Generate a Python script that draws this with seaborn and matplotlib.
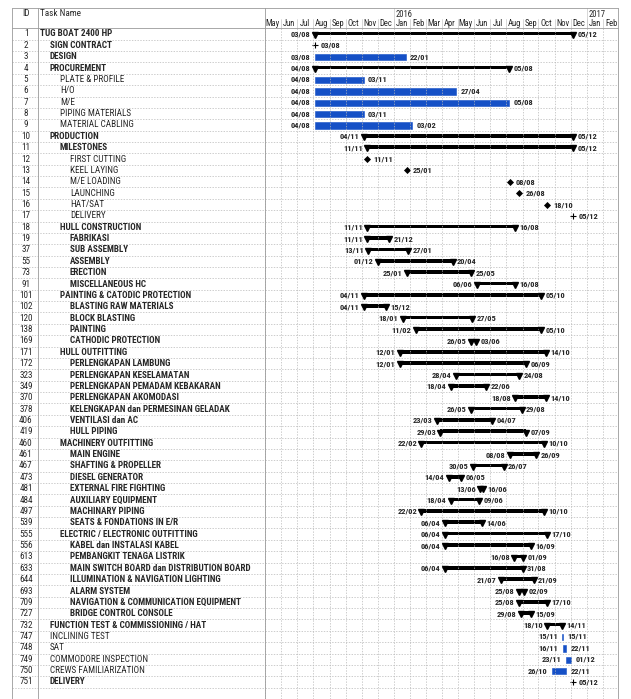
import datetime as dt
import matplotlib
matplotlib.use("Agg")
import matplotlib.pyplot as plt
import matplotlib.dates as mdates
import pandas as pd
import seaborn as sns

# Schedule data
task_ids = [1, 2, 3, 4, 5, 6, 7, 8, 9, 10, 11, 12, 13, 14, 15, 16, 17, 18, 19, 37,
            55, 73, 91, 101, 102, 120, 138, 169, 171, 172, 323, 349, 370, 378, 406,
            419, 460, 461, 467, 473, 481, 484, 497, 539, 555, 556, 613, 633, 644,
            693, 709, 727, 732, 747, 748, 749, 750, 751]
task_names = [
    "TUG BOAT 2400 HP", "SIGN CONTRACT", "DESIGN", "PROCUREMENT", "PLATE & PROFILE",
    "H/O", "M/E", "PIPING MATERIALS", "MATERIAL CABLING", "PRODUCTION", "MILESTONES",
    "FIRST CUTTING", "KEEL LAYING", "M/E LOADING", "LAUNCHING", "HAT/SAT", "DELIVERY",
    "HULL CONSTRUCTION", "FABRIKASI", "SUB ASSEMBLY", "ASSEMBLY", "ERECTION",
    "MISCELLANEOUS HC", "PAINTING & CATODIC PROTECTION", "BLASTING RAW MATERIALS",
    "BLOCK BLASTING", "PAINTING", "CATHODIC PROTECTION", "HULL OUTFITTING",
    "PERLENGKAPAN LAMBUNG", "PERLENGKAPAN KESELAMATAN", "PERLENGKAPAN PEMADAM KEBAKARAN",
    "PERLENGKAPAN AKOMODASI", "KELENGKAPAN dan PERMESINAN GELADAK", "VENTILASI dan AC",
    "HULL PIPING", "MACHINERY OUTFITTING", "MAIN ENGINE", "SHAFTING & PROPELLER",
    "DIESEL GENERATOR", "EXTERNAL FIRE FIGHTING", "AUXILIARY EQUIPMENT",
    "MACHINARY PIPING", "SEATS & FONDATIONS IN E/R", "ELECTRIC / ELECTRONIC OUTFITTING",
    "KABEL dan INSTALASI KABEL", "PEMBANGKIT TENAGA LISTRIK",
    "MAIN SWITCH BOARD dan DISTRIBUTION BOARD", "ILLUMINATION & NAVIGATION LIGHTING",
    "ALARM SYSTEM", "NAVIGATION & COMMUNICATION EQUIPMENT", "BRIDGE CONTROL CONSOLE",
    "FUNCTION TEST & COMMISSIONING / HAT", "INCLINING TEST", "SAT",
    "COMMODORE INSPECTION", "CREWS FAMILIARIZATION", "DELIVERY"]
outline_levels = [0, 1, 1, 1, 2, 2, 2, 2, 2, 1, 2, 3, 3, 3, 3, 3, 3, 2, 3, 3,
                  3, 3, 3, 2, 3, 3, 3, 3, 2, 3, 3, 3, 3, 3, 3,
                  3, 2, 3, 3, 3, 3, 3, 3, 3, 2, 3, 3, 3, 3,
                  3, 3, 3, 1, 1, 1, 1, 1, 1]
task_kinds = ["summary", "star", "task", "summary", "task", "task", "task", "task", "task",
              "summary", "summary", "milestone", "milestone", "milestone", "milestone",
              "milestone", "star"] + ["summary"] * 36 + ["task"] * 4 + ["star"]
start_dates = [
    "2015-08-03", "2015-08-03", "2015-08-03", "2015-08-04", "2015-08-04", "2015-08-04",
    "2015-08-04", "2015-08-04", "2015-08-04", "2015-11-04", "2015-11-11", "2015-11-11",
    "2016-01-25", "2016-08-08", "2016-08-26", "2016-10-18", "2016-12-05", "2015-11-11",
    "2015-11-11", "2015-11-13", "2015-12-01", "2016-01-25", "2016-06-06", "2015-11-04",
    "2015-11-04", "2016-01-18", "2016-02-11", "2016-05-26", "2016-01-12", "2016-01-12",
    "2016-04-28", "2016-04-18", "2016-08-18", "2016-05-26", "2016-03-23", "2016-03-29",
    "2016-02-22", "2016-08-08", "2016-05-30", "2016-04-14", "2016-06-13", "2016-04-18",
    "2016-02-22", "2016-04-06", "2016-04-06", "2016-04-06", "2016-08-16", "2016-04-06",
    "2016-07-21", "2016-08-25", "2016-08-25", "2016-08-29", "2016-10-18", "2016-11-15",
    "2016-11-16", "2016-11-23", "2016-10-26", "2016-12-05"]
finish_dates = [
    "2016-12-05", "2015-08-03", "2016-01-22", "2016-08-05", "2015-11-03", "2016-04-27",
    "2016-08-05", "2015-11-03", "2016-02-03", "2016-12-05", "2016-12-05", "2015-11-11",
    "2016-01-25", "2016-08-08", "2016-08-26", "2016-10-18", "2016-12-05", "2016-08-16",
    "2015-12-21", "2016-01-27", "2016-04-20", "2016-05-25", "2016-08-16", "2016-10-05",
    "2015-12-15", "2016-05-27", "2016-10-05", "2016-06-03", "2016-10-14", "2016-09-06",
    "2016-08-24", "2016-06-22", "2016-10-14", "2016-08-29", "2016-07-04", "2016-09-07",
    "2016-10-10", "2016-09-26", "2016-07-26", "2016-05-06", "2016-06-16", "2016-06-09",
    "2016-10-10", "2016-06-14", "2016-10-17", "2016-09-16", "2016-09-01", "2016-08-31",
    "2016-09-21", "2016-09-02", "2016-10-17", "2016-09-15", "2016-11-14", "2016-11-15",
    "2016-11-22", "2016-12-01", "2016-11-22", "2016-12-05"]
month_labels = ["May", "Jun", "Jul", "Aug", "Sep", "Oct", "Nov", "Dec", "Jan", "Feb",
                "Mar", "Apr", "May", "Jun", "Jul", "Aug", "Sep", "Oct", "Nov", "Dec",
                "Jan", "Feb"]
year_labels = ["2016", "2017"]

sns.set_style("white")
plt.rcParams["font.family"] = ["Roboto Condensed", "Liberation Sans", "DejaVu Sans"]

df = pd.DataFrame({"id": task_ids, "name": task_names, "level": outline_levels,
                   "kind": task_kinds,
                   "start": pd.to_datetime(start_dates),
                   "finish": pd.to_datetime(finish_dates)})
df["row"] = range(len(df))
df["bold"] = (df["kind"] == "summary") | df["id"].isin([2, 3, 751])

W, H = 631, 699
fig = plt.figure(figsize=(W / 100, H / 100), dpi=100)


def rect(x0, y0, x1, y1):
    return [x0 / W, 1 - y1 / H, (x1 - x0) / W, (y1 - y0) / H]


X_TBL, X_ID, X_SPLIT, X_END = 12, 38, 265, 618
Y_TOP, Y_HEAD = 8, 28.3
N_ROWS = len(df) + 1
t0, t1 = dt.datetime(2015, 5, 1), dt.datetime(2017, 3, 1)
grid_kw = dict(color="#b8b8b8", lw=0.5, ls=(0, (2, 2)))
border = "#9a9a9a"
FS = 6.6

ax_tbl = fig.add_axes(rect(X_TBL, Y_HEAD, X_SPLIT, H))
ax = fig.add_axes(rect(X_SPLIT, Y_HEAD, X_END, H))
ax_htbl = fig.add_axes(rect(X_TBL, Y_TOP, X_SPLIT, Y_HEAD))
ax_head = fig.add_axes(rect(X_SPLIT, Y_TOP, X_END, Y_HEAD))
for a in (ax_tbl, ax, ax_htbl, ax_head):
    a.set_axis_off()
for a in (ax_tbl, ax):
    a.set_ylim(N_ROWS - 0.5, -0.5)
ax_tbl.set_xlim(X_TBL, X_SPLIT)
ax_htbl.set_xlim(X_TBL, X_SPLIT)
ax_htbl.set_ylim(Y_HEAD, Y_TOP)
ax.set_xlim(t0, t1)
ax_head.set_xlim(t0, t1)
ax_head.set_ylim(1, 0)

# Table part
indent = {0: 40, 1: 50, 2: 60, 3: 70}
for r in df.itertuples():
    ax_tbl.text(26, r.row, str(r.id), ha="center", va="center", fontsize=FS)
    ax_tbl.text(indent[r.level], r.row, r.name, ha="left", va="center", fontsize=FS,
                fontweight="bold" if r.bold else "normal")
for i in range(N_ROWS):
    ax_tbl.axhline(i + 0.5, **grid_kw)
    ax.axhline(i + 0.5, **grid_kw)
ax_htbl.text(26, 13, "ID", ha="center", va="center", fontsize=FS)
ax_htbl.text(40, 13, "Task Name", ha="left", va="center", fontsize=FS)

# Timescale header
months = pd.date_range(t0, t1, freq="MS")
for m, lab in zip(months[:-1], month_labels):
    mid = m + pd.Timedelta(days=15)
    ax_head.text(mid, 0.76, lab, ha="center", va="center", fontsize=6.2)
    ax_head.plot([m, m], [0.52, 1], color="#c8c8c8", lw=0.5)
    ax.axvline(m, **grid_kw)
for lab in year_labels:
    ystart = dt.datetime(int(lab), 1, 1)
    ax_head.text(ystart + pd.Timedelta(days=3), 0.3, lab, ha="left", va="center",
                 fontsize=6.2)
    ax_head.plot([ystart, ystart], [0, 1], color="#c8c8c8", lw=0.5)

# Bars
blue = "#1550c6"
lab_kw = dict(fontsize=6.0, fontweight="bold", va="center", textcoords="offset points")
one_day = pd.Timedelta(days=1)
for r in df.itertuples():
    s = mdates.date2num(r.start)
    f = mdates.date2num(r.finish + one_day)
    if r.kind == "task":
        ax.barh(r.row + 0.05, f - s, left=s, height=0.56, color=blue,
                edgecolor=blue, lw=0.4)
    elif r.kind == "summary":
        ax.barh(r.row - 0.05, f - s, left=s, height=0.32, color="black", lw=0)
        ax.plot([s, f], [r.row + 0.06, r.row + 0.06], ls="none", marker="v",
                ms=4.6, color="black")
    if r.kind in ("task", "summary"):
        ax.annotate(r.start.strftime("%d/%m"), (s, r.row), xytext=(-3.2, 0),
                    ha="right", **lab_kw)
        ax.annotate(r.finish.strftime("%d/%m"), (f, r.row), xytext=(3.2, 0),
                    ha="left", **lab_kw)
    else:
        ax.annotate(r.start.strftime("%d/%m"), (s, r.row), xytext=(4.2, 0),
                    ha="left", **lab_kw)

ms_df = df[df["kind"] == "milestone"]
sns.scatterplot(data=ms_df, x="start", y="row", marker="D", s=13, color="black",
                linewidth=0, ax=ax)
star_df = df[df["kind"] == "star"]
sns.scatterplot(data=star_df, x="start", y="row", marker="+", s=20, color="black",
                linewidth=0.8, ax=ax)
ax.set_xlim(t0, t1)
ax.set_ylim(N_ROWS - 0.5, -0.5)
ax.set_axis_off()

# Borders
for x in (X_TBL, X_ID, X_SPLIT, X_END):
    fig.add_artist(plt.Line2D([x / W, x / W], [1 - Y_TOP / H, 0], color=border, lw=0.6))
for y in (Y_TOP, Y_HEAD):
    fig.add_artist(plt.Line2D([X_TBL / W, X_END / W], [1 - y / H, 1 - y / H],
                              color=border, lw=0.6))

fig.savefig("out.png", dpi=100, facecolor="white")
